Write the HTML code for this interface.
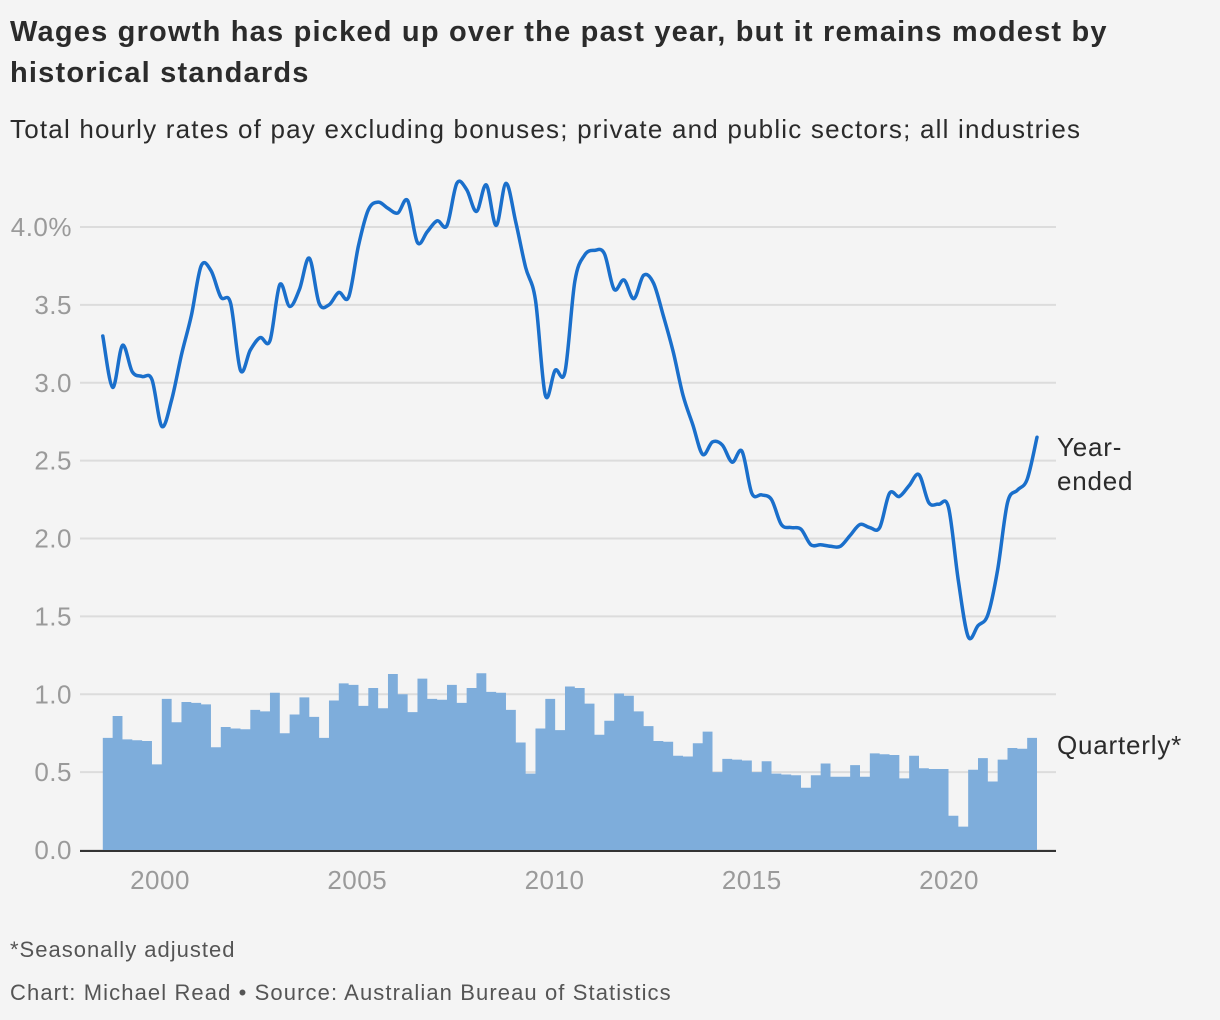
<!DOCTYPE html>
<html><head><meta charset="utf-8">
<style>
body{margin:0;background:#f4f4f4;font-family:"Liberation Sans",sans-serif;}
#wrap{position:relative;width:1220px;height:1020px;overflow:hidden;background:#f4f4f4;}
.t{position:absolute;left:10px;color:#2b2b2b;white-space:nowrap;}
</style></head><body>
<div id="wrap">
<div class="t" style="top:12px;font-size:29px;font-weight:bold;line-height:41px;letter-spacing:1.2px;">Wages growth has picked up over the past year, but it remains modest by<br>historical standards</div>
<div class="t" style="top:114px;font-size:26px;letter-spacing:1.2px;">Total hourly rates of pay excluding bonuses; private and public sectors; all industries</div>
<svg id="chart" width="1220" height="1020" style="position:absolute;left:0;top:0"></svg>
<div class="t" style="top:937px;font-size:22px;letter-spacing:1px;color:#555;">*Seasonally adjusted</div>
<div class="t" style="top:980px;font-size:22px;letter-spacing:1.1px;color:#555;">Chart: Michael Read • Source: Australian Bureau of Statistics</div>
</div>
<script>
const yTicks=[0,0.5,1,1.5,2,2.5,3,3.5,4];
const yTickLabels=["0.0","0.5","1.0","1.5","2.0","2.5","3.0","3.5","4.0%"];
const xTicks=[2000,2005,2010,2015,2020];
const yearEnded=[3.30,2.97,3.24,3.07,3.04,3.02,2.72,2.89,3.18,3.43,3.75,3.72,3.55,3.51,3.08,3.21,3.29,3.27,3.63,3.49,3.60,3.80,3.51,3.50,3.58,3.55,3.88,4.11,4.16,4.12,4.09,4.17,3.90,3.97,4.04,4.01,4.28,4.24,4.10,4.27,4.01,4.28,4.03,3.74,3.53,2.92,3.08,3.07,3.65,3.82,3.85,3.83,3.60,3.66,3.54,3.69,3.64,3.43,3.20,2.92,2.73,2.54,2.62,2.60,2.49,2.56,2.29,2.28,2.25,2.09,2.07,2.06,1.96,1.96,1.95,1.95,2.02,2.09,2.07,2.07,2.29,2.27,2.34,2.41,2.23,2.22,2.20,1.73,1.37,1.44,1.51,1.80,2.23,2.31,2.38,2.65];
const quarterly=[0.72,0.86,0.71,0.705,0.70,0.55,0.97,0.82,0.95,0.945,0.935,0.66,0.79,0.78,0.775,0.90,0.89,1.01,0.75,0.87,0.98,0.855,0.72,0.96,1.07,1.06,0.925,1.04,0.91,1.13,1.00,0.885,1.10,0.97,0.965,1.06,0.945,1.04,1.135,1.015,1.01,0.90,0.69,0.49,0.78,0.97,0.77,1.05,1.04,0.94,0.74,0.83,1.005,0.99,0.89,0.795,0.70,0.695,0.605,0.60,0.685,0.76,0.50,0.585,0.58,0.575,0.50,0.57,0.49,0.485,0.48,0.40,0.48,0.555,0.47,0.47,0.545,0.47,0.62,0.615,0.61,0.46,0.605,0.525,0.52,0.52,0.22,0.15,0.515,0.59,0.44,0.58,0.655,0.65,0.72];
const startYear=1998.55;
const NS="http://www.w3.org/2000/svg";
const svg=document.getElementById('chart');
const y=v=>850-v*155.75;
const xYear=t=>160+(t-2000)*39.45;
const x0=xYear(startYear), x1=1037;
const n=quarterly.length;
const bw=(x1-x0)/n;
const xLine=i=>x0+i*(x1-x0)/(yearEnded.length-1);
function mk(tag,attrs){const e=document.createElementNS(NS,tag);for(const k in attrs)e.setAttribute(k,attrs[k]);svg.appendChild(e);return e;}
yTicks.forEach((v,i)=>{
  const g=mk('line',{x1:80,x2:1056,y1:y(v),y2:y(v),stroke:'#dcdcdc','stroke-width':2});
  
  
  const t=mk('text',{x:72,y:y(v)+9,'text-anchor':'end','font-size':26,'letter-spacing':0.5,fill:'#9a9a9a','font-family':'Liberation Sans, sans-serif'});
  t.textContent=yTickLabels[i];
  
  
});
let d=`M${x0},${y(0)}`;
quarterly.forEach((v,i)=>{d+=`L${x0+i*bw},${y(v)}L${x0+(i+1)*bw},${y(v)}`;});
d+=`L${x1},${y(0)}Z`;
const area=mk('path',{d:d,fill:'#7eaddb'});


const pts=yearEnded.map((v,i)=>[xLine(i),y(v)]);
let ld=`M${pts[0][0]},${pts[0][1]}`;
for(let i=0;i<pts.length-1;i++){
  const p0=pts[Math.max(0,i-1)],p1=pts[i],p2=pts[i+1],p3=pts[Math.min(pts.length-1,i+2)];
  const k=1/6;
  ld+=`C${p1[0]+(p2[0]-p0[0])*k},${p1[1]+(p2[1]-p0[1])*k} ${p2[0]-(p3[0]-p1[0])*k},${p2[1]-(p3[1]-p1[1])*k} ${p2[0]},${p2[1]}`;
}
const line=mk('path',{d:ld,fill:'none',stroke:'#1a6fcb','stroke-width':3.5,'stroke-linejoin':'round','stroke-linecap':'round'});


const ax=mk('line',{x1:80,x2:1056,y1:851,y2:851,stroke:'#333','stroke-width':2});


xTicks.forEach(t=>{
  const e=mk('text',{x:xYear(t),y:889,'text-anchor':'middle','font-size':26,'letter-spacing':0.5,fill:'#9a9a9a','font-family':'Liberation Sans, sans-serif'});
  e.textContent=t;
  
  
});
[["Year-",456,'series-label-year-ended'],["ended",490,'series-label-year-ended'],["Quarterly*",754,'series-label-quarterly']].forEach(a=>{
  const e=mk('text',{x:1057,y:a[1],'font-size':26,'letter-spacing':0.8,fill:'#2b2b2b','font-family':'Liberation Sans, sans-serif'});
  e.textContent=a[0];
  
  
});
</script>
</body></html>
